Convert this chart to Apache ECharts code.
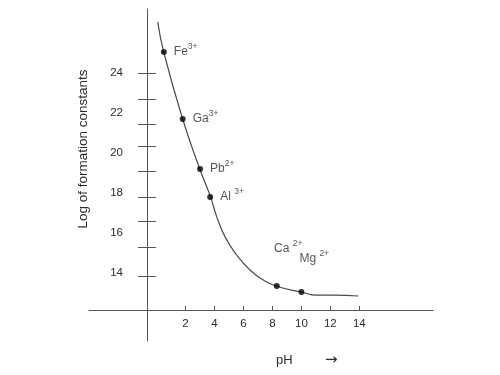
<!DOCTYPE html>
<html>
<head>
<meta charset="utf-8">
<script src="https://cdn.jsdelivr.net/npm/echarts@6/dist/echarts.min.js"></script>
<style>html,body{margin:0;padding:0;background:#fff}#c{width:500px;height:375px}</style>
</head>
<body>
<div id="c"></div>
<script>
// ---- data ----
const ions = ['Fe', 'Ga', 'Pb', 'Al', 'Ca', 'Mg'];
const charges = ['3+', '3+', '2+', '3+', '2+', '2+'];
const ionPH = [0.5, 1.8, 3.0, 3.7, 8.3, 10.0];
const ionLogK = [25.05, 21.7, 19.2, 17.8, 13.35, 13.05];

const curvePH = [0.08, 0.49, 1.8, 2.98, 3.72, 4.15, 4.72, 5.53, 6.45, 7.37, 8.29, 9.99, 11.06, 12.2, 13.93];
const curveLogK = [26.55, 25.05, 21.7, 19.2, 17.82, 16.82, 15.82, 14.9, 14.15, 13.65, 13.34, 13.05, 12.89, 12.89, 12.85];

const xTickLabels = [2, 4, 6, 8, 10, 12, 14];
const yTickLabels = [14, 16, 18, 20, 22, 24];
const yTickMarks = [24, 22.69, 21.44, 20.32, 19.09, 17.79, 16.57, 15.27, 13.82];

// ---- chart ----
const XMIN = -4.669, XMAX = 19.088, YMIN = 10.6, YMAX = 27.2;
const FONT = 'Liberation Sans';
const TXT = '#2b2b2b';
const AX = '#555';
const aboveLabels = ['Ca', 'Mg'];
const spaced = ['Al', 'Ca', 'Mg'];

const pointData = ions.map((n, i) => {
  const item = { value: [ionPH[i], ionLogK[i]], name: n };
  if (aboveLabels.indexOf(n) >= 0) {
    item.label = { position: 'inside', align: 'left', offset: n === 'Ca' ? [-2.7, -37] : [-2, -33] };
  }
  return item;
});

const chart = echarts.init(document.getElementById('c'), null, { renderer: 'canvas' });
chart.setOption({
  animation: false,
  backgroundColor: '#fff',
  textStyle: { fontFamily: FONT },
  grid: { left: 89, right: 67, top: 9, bottom: 34, containLabel: false, outerBoundsMode: 'none' },
  xAxis: {
    type: 'value', min: XMIN, max: XMAX, position: 'bottom', offset: -31,
    axisLine: { onZero: false, lineStyle: { color: AX, width: 1 } },
    axisTick: { inside: true, length: 4, customValues: xTickLabels, lineStyle: { color: AX } },
    axisLabel: { customValues: xTickLabels, margin: 8, fontSize: 11.5, color: TXT, fontFamily: FONT },
    splitLine: { show: false }
  },
  yAxis: [{
    type: 'value', min: YMIN, max: YMAX, position: 'left', offset: -58,
    axisLine: { show: true, onZero: false, lineStyle: { color: AX, width: 1 } },
    axisTick: { show: true, inside: false, length: 9, customValues: yTickMarks, lineStyle: { color: AX } },
    axisLabel: { customValues: yTickLabels, margin: 24, fontSize: 11.5, color: TXT, fontFamily: FONT },
    splitLine: { show: false }
  }, {
    type: 'value', min: YMIN, max: YMAX, position: 'left', offset: -58,
    axisLine: { show: false, onZero: false },
    axisTick: { show: true, inside: true, length: 9, customValues: yTickMarks, lineStyle: { color: AX } },
    axisLabel: { show: false },
    splitLine: { show: false }
  }],
  graphic: [
    { type: 'text', x: 83, y: 149, rotation: Math.PI / 2,
      style: { text: 'Log of formation constants', font: '13.5px "' + FONT + '"', fill: TXT, align: 'center', verticalAlign: 'middle' } },
    { type: 'text', x: 276, y: 360,
      style: { text: 'pH', font: '13px "' + FONT + '"', fill: TXT, align: 'left', verticalAlign: 'middle' } },
    { type: 'text', x: 325, y: 360,
      style: { text: '\u2192', font: '15px "DejaVu Sans"', fill: TXT, align: 'left', verticalAlign: 'middle' } }
  ],
  series: [{
    type: 'line', data: curvePH.map((x, i) => [x, curveLogK[i]]),
    smooth: 0.5, showSymbol: false, silent: true,
    lineStyle: { color: '#4a4a4a', width: 1.2 }, z: 2
  }, {
    type: 'scatter', data: pointData, symbolSize: 6, z: 3,
    itemStyle: { color: '#000' },
    label: {
      show: true, position: 'right', distance: 7, color: TXT,
      formatter: p => '{b|' + p.name + (spaced.indexOf(p.name) >= 0 ? ' ' : '') + '}{s|' + charges[p.dataIndex] + '}',
      rich: {
        b: { fontSize: 12, lineHeight: 20, color: TXT, fontFamily: FONT },
        s: { fontSize: 8.5, lineHeight: 9, verticalAlign: 'top', color: TXT, fontFamily: FONT }
      }
    }
  }]
});
</script>
</body>
</html>
